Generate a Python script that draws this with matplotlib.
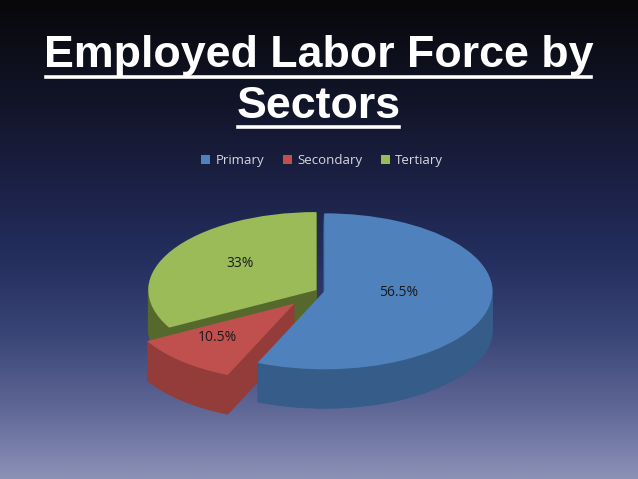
import numpy as np
import matplotlib
matplotlib.use('Agg')
import matplotlib.pyplot as plt
from matplotlib.colors import LinearSegmentedColormap
from matplotlib.patches import Patch
from matplotlib.lines import Line2D

sectors = ['Primary', 'Secondary', 'Tertiary']
shares = [56.5, 10.5, 33.0]
top_colors = ['#4f81bd', '#c0504d', '#9bbb59']
wall_colors = ['#365c89', '#943c39', '#56692c']
explode = [0.03, 0.22, 0.02]
label_dist = [0.45, 0.68, 0.53]

title_lines = ['Employed Labor Force by', 'Sectors']

fig = plt.figure(figsize=(6.38, 4.79), dpi=100)

# background gradient
bg = fig.add_axes([0, 0, 1, 1], zorder=-10)
cmap = LinearSegmentedColormap.from_list('bg', [
    (0.0, '#08080a'), (0.2, '#111427'), (0.4, '#1c2248'),
    (0.55, '#253060'), (0.7, '#3a4577'), (0.85, '#5e6695'), (1.0, '#8c91b7')])
bg.imshow(np.linspace(0, 1, 256).reshape(-1, 1), aspect='auto', cmap=cmap,
          extent=[0, 1, 0, 1], origin='upper')
bg.axis('off')

# title with underline
renderer = fig.canvas.get_renderer()
title_base = [0.860, 0.754]
under_y = [0.839, 0.735]
for line, ty, uy in zip(title_lines, title_base, under_y):
    t = fig.text(0.499, ty, line, ha='center', va='baseline', color='white',
                 fontsize=32.2, fontweight='bold', family='Liberation Sans')
    bb = t.get_window_extent(renderer=renderer).transformed(fig.transFigure.inverted())
    fig.add_artist(Line2D([bb.x0 + 0.003, bb.x1 - 0.003], [uy, uy], color='white',
                          lw=2.6, transform=fig.transFigure))

# pie drawn flat, then squashed to look 3D
ax = fig.add_axes([0.158, 0.0835, 0.685, 0.521])
depth = 0.5
n_layers = 30
for k in range(n_layers):
    off = -depth + depth * k / n_layers
    ax.pie(shares, explode=explode, startangle=90, counterclock=False,
           colors=wall_colors, center=(0, off),
           wedgeprops=dict(linewidth=0.6))
    for w, c in zip(ax.patches[-3:], wall_colors):
        w.set_edgecolor(c)

wedges, texts, autotexts = ax.pie(
    shares, explode=explode, startangle=90, counterclock=False,
    colors=top_colors, autopct=lambda p: f'{round(p, 1):g}%', pctdistance=0.6,
    textprops=dict(color='#1a1a1a', fontsize=10, family='Open Sans'),
    wedgeprops=dict(linewidth=0))

# move each label along its own radius
for at, e, r in zip(autotexts, explode, label_dist):
    x, y = at.get_position()
    s = (r + e) / (0.6 + e)
    at.set_position((x * s, y * s + 0.07))

ax.set_aspect('auto')
ax.set_xlim(-1.3, 1.3)
ax.set_ylim(-1.9, 1.3)
ax.axis('off')

handles = [Patch(facecolor=c, label=s) for c, s in zip(top_colors, sectors)]
fig.legend(handles=handles, loc='center', bbox_to_anchor=(0.505, 0.665), ncol=3,
           frameon=False, handlelength=0.7, handleheight=0.7, handletextpad=0.4,
           columnspacing=1.4, prop=dict(family='Open Sans', size=9.5),
           labelcolor='#d6d8e0')

fig.savefig('out.png', dpi=100)
